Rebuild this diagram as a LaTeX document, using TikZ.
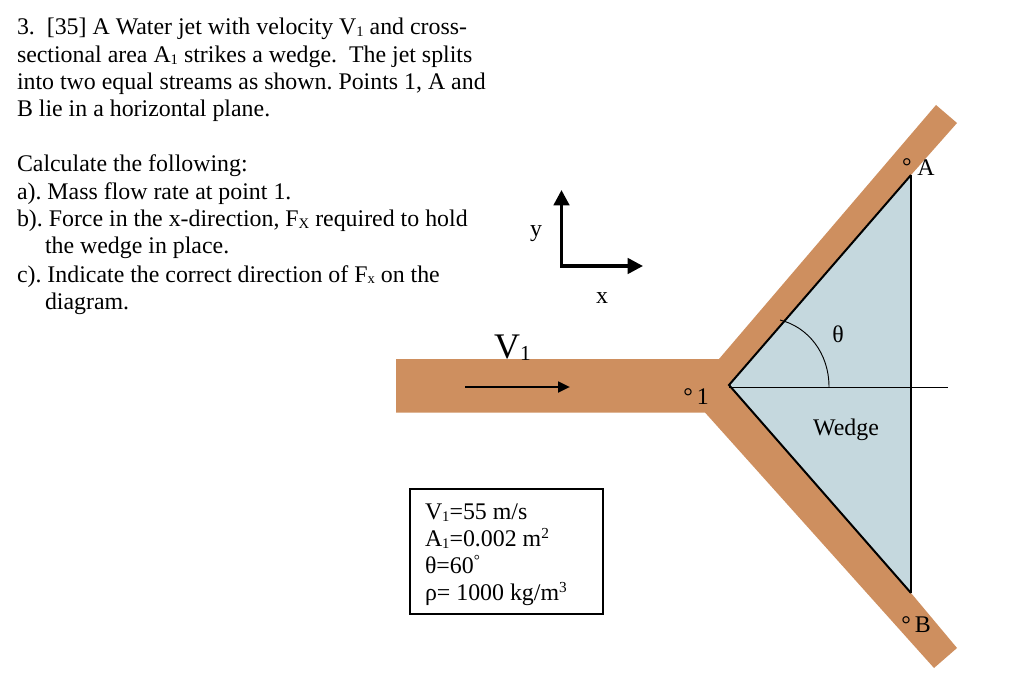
\documentclass[tikz,border=0pt]{standalone}
\usepackage{fontspec}
\setmainfont{Liberation Serif}
\usetikzlibrary{arrows.meta}
\newcommand{\lowsub}[1]{\raisebox{-1.5pt}{\fontsize{11}{11}\selectfont #1}}
\newcommand{\hisup}[1]{\raisebox{5.5pt}{\fontsize{11.5}{11}\selectfont #1}}
\definecolor{jet}{RGB}{206,143,95}
\definecolor{wedge}{RGB}{197,216,222}
\tikzset{
  x=0.75pt,y=-0.75pt,
  txt/.style={anchor=base west,inner sep=0pt,outer sep=0pt,font=\fontsize{17.9}{20}\selectfont\frenchspacing},
  lbl/.style={anchor=base,inner sep=0pt,outer sep=0pt,font=\fontsize{17.9}{20}\selectfont},
  biglbl/.style={anchor=base west,inner sep=0pt,outer sep=0pt,font=\fontsize{27}{30}\selectfont},
  edge/.style={draw=black,line width=1.5pt},
  thinedge/.style={draw=black,line width=0.7pt},
  axis/.style={draw=black,line width=2.6pt,-{Triangle[length=11.5pt,width=11.5pt]}},
  flow/.style={draw=black,line width=2pt,-{Triangle[length=9pt,width=8pt]}}
}
\begin{document}
\begin{tikzpicture}
\useasboundingbox (0,0) rectangle (1024,684);
\fill[white] (0,0) rectangle (1024,684);
% water jet
\fill[jet] (396,359) -- (719,359) -- (936,105) -- (957,123) -- (911,175) -- (729,385) -- (911,593) -- (957,648) -- (934,668) -- (705,412.5) -- (396,412.5) -- cycle;
% wedge
\coordinate (vertex) at (729,385);
\coordinate (tipA) at (911,175);
\coordinate (tipB) at (911,593);
\coordinate (lineL) at (729,387);
\coordinate (lineR) at (948,387);
\coordinate (arcS) at (829,387);
\coordinate (arcE) at (780,320);
\fill[wedge] (vertex) -- (tipA) -- (tipB) -- cycle;
\draw[edge] (tipA) -- (vertex) -- (tipB);
\draw[draw=black,line width=1.2pt] (tipA) -- (tipB);
\draw[thinedge] (lineL) -- (lineR);
\draw[thinedge] (arcS) .. controls (829,353) and (808,327) .. (arcE);
% axes
\coordinate (corner) at (561.5,267.7);
\coordinate (origin) at (560,266);
\coordinate (yend) at (561.5,190);
\coordinate (xend) at (643,266);
\draw[axis] (corner) -- (yend);
\draw[axis] (origin) -- (xend);
\node[lbl] (ylab) at (536,237) {y};
\node[lbl] (xlab) at (602,303) {x};
% velocity arrow
\coordinate (vs) at (465,387);
\coordinate (ve) at (570,387);
\draw[flow] (vs) -- (ve);
\node[biglbl] (vlab) at (494,358) {V\raisebox{-2pt}{\fontsize{16}{16}\selectfont 1}};
% point labels
\node[lbl] (p1) at (696,404) {°\,1};
\node[lbl] (pAo) at (907,175) {°};
\node[lbl] (pA) at (926,176) {A};
\node[lbl] (pB) at (916,632) {°\,B};
\node[lbl] (theta) at (838,342) {θ};
\node[lbl] (wlab) at (846,435) {Wedge};
% problem text
\node[txt] (l1) at (17,35) {3.\ \ [35] A Water jet with velocity V\lowsub{1} and cross-};
\node[txt] (l2) at (17,63) {sectional area A\lowsub{1} strikes a wedge.\ \ The jet splits};
\node[txt] (l3) at (17,90) {into two equal streams as shown. Points 1, A and};
\node[txt] (l4) at (17,117) {B lie in a horizontal plane.};
\node[txt] (l5) at (17,172) {Calculate the following:};
\node[txt] (l6) at (17,200) {a). Mass flow rate at point 1.};
\node[txt] (l7) at (17,227) {b). Force in the x-direction, F\lowsub{X} required to hold};
\node[txt] (l8) at (45,254) {the wedge in place.};
\node[txt] (l9) at (17,282) {c). Indicate the correct direction of F\lowsub{x} on the};
\node[txt] (l10) at (45,309) {diagram.};
% data box
\draw[draw=black,line width=0.9pt,fill=white] (410,489) rectangle (603,614);
\node[txt] (d1) at (425,519) {V\lowsub{1}=55 m/s};
\node[txt] (d2) at (425,546) {A\lowsub{1}=0.002 m\hisup{2}};
\node[txt] (d3) at (425,573) {θ=60\hisup{°}};
\node[txt] (d4) at (425,600) {ρ= 1000 kg/m\hisup{3}};
\end{tikzpicture}
\end{document}
